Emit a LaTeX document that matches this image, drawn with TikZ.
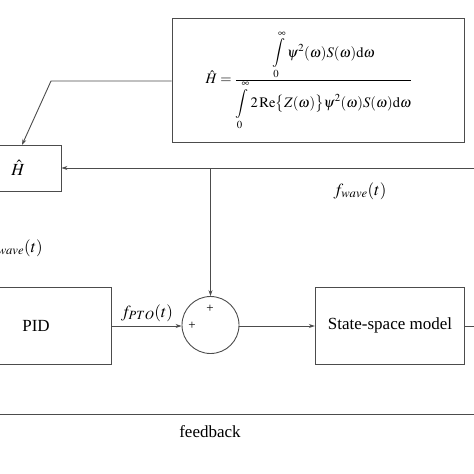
\documentclass[tikz,border=0pt]{standalone}
\usepackage{mathptmx}
\usepackage{fontspec}
\setmainfont{Liberation Serif}
\usetikzlibrary{arrows.meta}
\begin{document}
\begin{tikzpicture}[x=1pt,y=-1pt,
  line/.style={draw=black!70,line width=0.9pt},
  arr/.style={line,-{Stealth[length=6pt,width=4pt]}},
  blk/.style={draw=black!70,line width=0.9pt,inner sep=0pt,font=\fontsize{17}{20}\selectfont},
  lbl/.style={inner sep=0pt,font=\fontsize{17}{20}\selectfont}]
\useasboundingbox (0,0) rectangle (474,474);
\clip (0,0) rectangle (474,474);
\node[blk,minimum width=292pt,minimum height=124pt] (formula) at (318,80) {};
\node[lbl,font=\fontsize{14.5}{17}\selectfont] (eq) at (309,80)
  {$\hat{H}=\frac{\displaystyle\int\limits_0^\infty \psi^2(\omega)S(\omega)\mathrm{d}\omega}{\displaystyle\int\limits_0^\infty 2\,\mathrm{Re}\bigl\{Z(\omega)\bigr\}\psi^2(\omega)S(\omega)\mathrm{d}\omega}$};
\node[blk,minimum width=86pt,minimum height=46pt] (hbox) at (18,168) {$\hat{H}$};
\node[blk,minimum width=150pt,minimum height=77pt] (pid) at (36,325.5) {PID};
\node[draw=black!70,line width=0.9pt,circle,minimum size=57pt,inner sep=0pt] (sum) at (210.5,325) {};
\node[blk,minimum width=149.5pt,minimum height=77pt] (ss) at (390,325.5) {State-space model};
\coordinate (wavein) at (480,168);
\coordinate (branch) at (210.5,168);
\coordinate (ssout) at (480,326);
\coordinate (bend) at (51,81);
\coordinate (fbl) at (-5,414);
\coordinate (fbr) at (480,414);
\draw[arr] (wavein) -- (hbox.east |- wavein);
\draw[arr] (branch) -- (sum.north);
\draw[arr] (pid.east |- 0,326) -- (sum.west |- 0,326);
\draw[arr] (sum.east |- 0,326) -- (ss.west |- 0,326);
\draw[line] (ss.east |- 0,326) -- (ssout);
\draw[arr] (formula.west |- bend) -- (bend) -- (22,145);
\draw[line] (fbl) -- (fbr);
\node[lbl] (fb) at (210,432) {feedback};
\node[lbl] (fw) at (360,191) {$f_{wave}(t)$};
\node[lbl,anchor=east] (fw2) at (43,248) {$f_{wave}(t)$};
\node[lbl] (fpto) at (147,313) {$f_{PTO}(t)$};
\node[inner sep=0pt,font=\fontsize{13}{15}\selectfont] (p1) at (210,309) {+};
\node[inner sep=0pt,font=\fontsize{13}{15}\selectfont] (p2) at (192,326) {+};
\end{tikzpicture}
\end{document}
